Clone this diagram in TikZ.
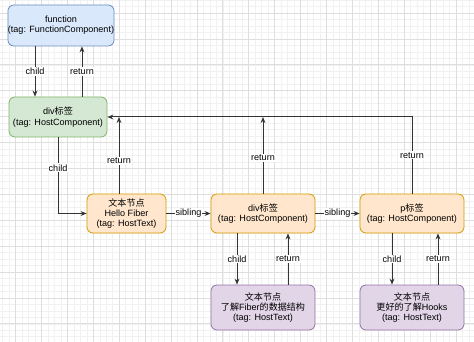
\documentclass[tikz,border=0pt]{standalone}
\usepackage{fontspec}
\setmainfont{Liberation Sans}
\newfontfamily\cjk{Noto Sans CJK SC}
\usetikzlibrary{arrows.meta,calc}
\definecolor{edgec}{HTML}{333333}
\definecolor{bluef}{HTML}{DAE8FC}\definecolor{blued}{HTML}{6C8EBF}
\definecolor{greenf}{HTML}{D5E8D4}\definecolor{greend}{HTML}{82B366}
\definecolor{orangef}{HTML}{FFE6CC}\definecolor{oranged}{HTML}{D79B00}
\definecolor{purplef}{HTML}{E1D5E7}\definecolor{purpled}{HTML}{9673A6}
\definecolor{gridminor}{HTML}{F1F1F1}\definecolor{gridmajor}{HTML}{DEDEDE}
\begin{document}
\begin{tikzpicture}[x=0.75pt,y=-0.75pt,
  box/.style={draw, rounded corners=4.5pt, line width=0.6pt, align=center,
    inner sep=0pt, font=\fontsize{6.8}{7.7}\selectfont},
  bluebox/.style={box, fill=bluef, draw=blued},
  greenbox/.style={box, fill=greenf, draw=greend},
  orangebox/.style={box, fill=orangef, draw=oranged},
  purplebox/.style={box, fill=purplef, draw=purpled},
  arr/.style={draw=edgec, line width=0.75pt, -{Stealth[length=4.5pt,width=3.6pt]}},
  lbl/.style={fill=white, inner sep=0.8pt, text=black, font=\fontsize{6.8}{7.7}\selectfont}]
\useasboundingbox (0,0) rectangle (474,342);
\fill[white] (0,0) rectangle (474,342);
\begin{scope}
\clip (0,0) rectangle (474,342);
\foreach \i in {0,...,80} {
  \draw[gridminor, line width=0.4pt] ({15.6-25.9+\i*25.9/4},0) -- ({15.6-25.9+\i*25.9/4},342);
  \draw[gridminor, line width=0.4pt] (0,{13-25.9+\i*25.9/4}) -- (474,{13-25.9+\i*25.9/4});
}
\foreach \i in {0,...,20} {
  \draw[gridmajor, line width=0.5pt] ({15.6-25.9+\i*25.9},0) -- ({15.6-25.9+\i*25.9},342);
  \draw[gridmajor, line width=0.5pt] (0,{13-25.9+\i*25.9}) -- (474,{13-25.9+\i*25.9});
}
\end{scope}

\node[bluebox, minimum width=104*0.75pt, minimum height=41*0.75pt] (fn) at (61,25.5) {function\\(tag: FunctionComponent)};
\node[greenbox, minimum width=98*0.75pt, minimum height=40*0.75pt] (div1) at (58,117) {div{\cjk 标签}\\(tag: HostComponent)};
\node[orangebox, minimum width=79*0.75pt, minimum height=39*0.75pt] (hello) at (126.5,213.5) {{\cjk 文本节点}\\Hello Fiber\\(tag: HostText)};
\node[orangebox, minimum width=104*0.75pt, minimum height=39*0.75pt] (div2) at (263,213.5) {div{\cjk 标签}\\(tag: HostComponent)};
\node[orangebox, minimum width=104*0.75pt, minimum height=39*0.75pt] (p) at (412,213.5) {p{\cjk 标签}\\(tag: HostComponent)};
\node[purplebox, minimum width=104*0.75pt, minimum height=45*0.75pt] (t1) at (263,307.5) {{\cjk 文本节点}\\{\cjk 了解}Fiber{\cjk 的数据结构}\\(tag: HostText)};
\node[purplebox, minimum width=104*0.75pt, minimum height=45*0.75pt] (t2) at (412,307.5) {{\cjk 文本节点}\\{\cjk 更好的了解}Hooks\\(tag: HostText)};

\coordinate (fnc) at ($(fn.south)+(-26,0)$);
\coordinate (fnr) at ($(div1.north)+(24,0)$);
\coordinate (hr) at ($(hello.north)+(-7.5,0)$);
\coordinate (d2c) at ($(div2.south)+(-26,0)$);
\coordinate (d2r) at ($(t1.north)+(25,0)$);
\coordinate (pc) at ($(p.south)+(-20,0)$);
\coordinate (pr) at ($(t2.north)+(26,0)$);

% function <-> div1
\draw[arr] (fnc) -- node[lbl]{child} (fnc |- div1.north);
\draw[arr] (fnr) -- node[lbl]{return} (fnr |- fn.south);
% div1 -> hello
\draw[arr] (div1.south) -- node[lbl,pos=0.4]{child} (div1.south |- hello.west) -- (hello.west);
% hello return
\draw[arr] (hr) -- node[lbl,pos=0.43]{return} (hr |- div1.east);
% div2 return
\draw[arr] (div2.north) -- node[lbl,pos=0.47]{return} (div2.north |- div1.east);
% p return
\draw[arr] (p.north) -- node[lbl,pos=0.5]{return} (p.north |- div1.east) -- (div1.east);
% siblings
\draw[arr] (hello.east) -- node[lbl]{sibling} (div2.west);
\draw[arr] (div2.east) -- node[lbl]{sibling} (p.west);
% div2 <-> t1
\draw[arr] (d2c) -- node[lbl]{child} (d2c |- t1.north);
\draw[arr] (d2r) -- node[lbl]{return} (d2r |- div2.south);
% p <-> t2
\draw[arr] (pc) -- node[lbl]{child} (pc |- t2.north);
\draw[arr] (pr) -- node[lbl]{return} (pr |- p.south);
\end{tikzpicture}
\end{document}
